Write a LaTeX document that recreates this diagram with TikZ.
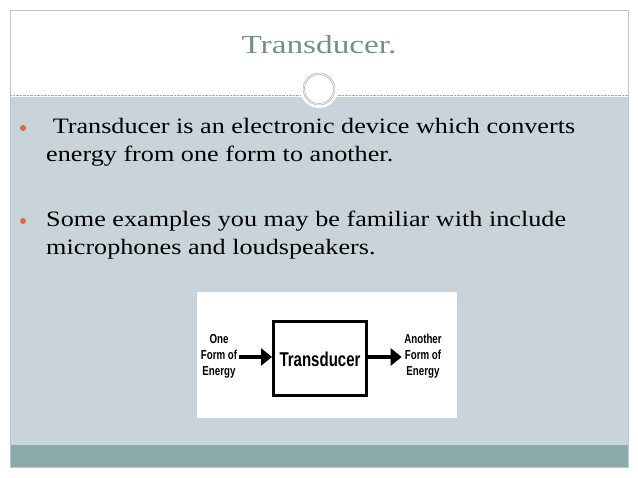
\documentclass[tikz,border=0pt]{standalone}
\usepackage{fontspec}
\setmainfont{Liberation Serif}
\newfontfamily\diagfont{Liberation Sans}
\usetikzlibrary{arrows.meta}
\definecolor{slidegray}{HTML}{C9D3DA}
\definecolor{tealbar}{HTML}{8BAAA9}
\definecolor{titlecol}{HTML}{6F9090}
\definecolor{bulletcol}{HTML}{E0643C}
\definecolor{framecol}{HTML}{B9C8C8}
\tikzset{
  body/.style={anchor=base west,inner sep=0pt,font=\fontsize{22}{26}\selectfont,xscale=1.19},
  bul/.style={circle,fill=bulletcol,inner sep=0pt,minimum size=6pt},
  dlabel/.style={align=center,font=\diagfont\bfseries\fontsize{13}{16}\selectfont,xscale=0.75},
  arr/.style={line width=3.5pt,-{Triangle[length=11pt,width=17pt]}}
}
\begin{document}
\begin{tikzpicture}[x=1pt,y=-1pt]
\useasboundingbox (0,0) rectangle (638,478);
\fill[white] (0,0) rectangle (638,478);
\fill[slidegray] (10,97) rectangle (628,445);
\fill[tealbar] (10,445) rectangle (628,467);
\draw[framecol] (10,10) rectangle (628,467);
\draw[gray!70,densely dotted] (10,95) -- (628,95);
\node[titlecol,font=\fontsize{26}{30}\selectfont,xscale=1.28] (title) at (319,45) {Transducer.};
\fill[white] (319,89) circle (19);
\draw[gray!80] (319,89) circle (16);
\draw[gray!80] (319,89) circle (14.5);
\node[bul] (b1) at (23,128) {};
\node[body] (t1) at (46,134) {\ Transducer is an electronic device which converts};
\node[body] (t1b) at (46,162) {energy from one form to another.};
\node[bul] (b2) at (23,221) {};
\node[body] (t2) at (46,227) {Some examples you may be familiar with include};
\node[body] (t2b) at (46,255) {microphones and loudspeakers.};
\fill[white] (197,292) rectangle (457,418);
\node[draw,line width=3pt,minimum width=93pt,minimum height=74pt,font=\diagfont\bfseries\fontsize{20}{22}\selectfont] (box) at (320,359) {\scalebox{0.75}[1]{Transducer}};
\node[dlabel] (in) at (219,356) {One\\Form of\\Energy};
\node[dlabel] (out) at (423,356) {Another\\Form of\\Energy};
\coordinate (a0) at (239,357);
\draw[arr] (a0) -- (box.west |- a0);
\draw[arr] (box.east |- a0) -- (out.west |- a0);
\end{tikzpicture}
\end{document}
